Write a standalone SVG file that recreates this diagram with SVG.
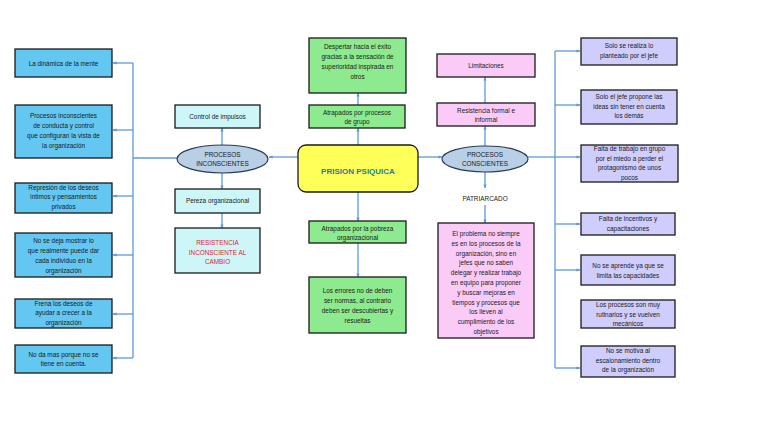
<svg xmlns="http://www.w3.org/2000/svg" width="768" height="433" viewBox="0 0 768 433">
<defs>
<marker id="ah" viewBox="0 0 10 10" refX="9" refY="5" markerWidth="4" markerHeight="4" orient="auto" markerUnits="userSpaceOnUse">
<path d="M0,1 L10,5 L0,9 z" fill="#5b9bd5"/>
</marker>
<style>
.t{font-family:"Liberation Sans",Arial,sans-serif;font-size:6.4px;fill:#1a1a1a;text-anchor:middle}
.b{stroke:#1a1a1a;stroke-width:1.3}
.lb{fill:#63c7f2}
.cy{fill:#cdf6f8}
.gr{fill:#8eea8e}
.pk{fill:#fbcbf8}
.lv{fill:#cfcdfb}
.el{fill:#b8cfe6;stroke:#2a3a55;stroke-width:1.2}
.c{stroke:#5b9bd5;stroke-width:1.3;fill:none}
.a{marker-end:url(#ah)}
</style>
</defs>
<rect width="768" height="433" fill="#ffffff"/>

<g id="connectors">
<!-- left trunk -->
<path class="c" d="M133,63 V358"/>
<path class="c" d="M177,158 H133"/>
<path class="c a" d="M133,63 H113"/>
<path class="c a" d="M133,130 H113"/>
<path class="c a" d="M133,196 H113"/>
<path class="c a" d="M133,255 H113"/>
<path class="c a" d="M133,314 H113"/>
<path class="c a" d="M133,358 H113"/>
<!-- inconscientes -->
<path class="c a" d="M222,145 V128"/>
<path class="c a" d="M222,173 V189"/>
<path class="c a" d="M222,213 V228"/>
<path class="c a" d="M298,157 H269"/>
<!-- center -->
<path class="c a" d="M358,145 V128"/>
<path class="c a" d="M358,105 V93"/>
<path class="c a" d="M358,192 V221"/>
<path class="c a" d="M358,243 V277"/>
<path class="c a" d="M418,157 H442"/>
<!-- conscientes -->
<path class="c a" d="M485,146 V126"/>
<path class="c a" d="M485,103 V77"/>
<path class="c a" d="M485,172 V188"/>
<path class="c a" d="M485,205 V223"/>
<path class="c" d="M528,157 H555"/>
<!-- right trunk -->
<path class="c" d="M555,51 V368"/>
<path class="c a" d="M555,51 H580"/>
<path class="c a" d="M555,105 H580"/>
<path class="c a" d="M555,157 H580"/>
<path class="c a" d="M555,224 H580"/>
<path class="c a" d="M555,270 H580"/>
<path class="c a" d="M555,368 H580"/>
</g>

<!-- left column -->
<g id="n-dinamica">
<rect class="b lb" x="15" y="49" width="97" height="28"/>
<text class="t" x="63.5" y="65.5">La dinámica de la mente</text>
</g>
<g id="n-procesos-inconscientes-conducta">
<rect class="b lb" x="15" y="105" width="97" height="53"/>
<text class="t" x="63.5" y="118"><tspan x="63.5">Procesos inconscientes</tspan><tspan x="63.5" dy="10">de conducta y control</tspan><tspan x="63.5" dy="10">que configuran la vista de</tspan><tspan x="63.5" dy="10">la organización</tspan></text>
</g>
<g id="n-represion">
<rect class="b lb" x="15" y="183" width="97" height="30"/>
<text class="t" x="63.5" y="189.5"><tspan x="63.5">Represión de los deseos</tspan><tspan x="63.5" dy="9.5">íntimos y pensamientos</tspan><tspan x="63.5" dy="9.5">privados</tspan></text>
</g>
<g id="n-no-se-deja">
<rect class="b lb" x="15" y="233" width="97" height="44"/>
<text class="t" x="63.5" y="242.5"><tspan x="63.5">No se deja  mostrar lo</tspan><tspan x="63.5" dy="10">que realmente puede dar</tspan><tspan x="63.5" dy="10">cada individuo en la</tspan><tspan x="63.5" dy="10">organización</tspan></text>
</g>
<g id="n-frena">
<rect class="b lb" x="15" y="299" width="97" height="29"/>
<text class="t" x="63.5" y="305.5"><tspan x="63.5">Frena los deseos de</tspan><tspan x="63.5" dy="9.5">ayudar a crecer a la</tspan><tspan x="63.5" dy="9.5">organización</tspan></text>
</g>
<g id="n-no-da">
<rect class="b lb" x="15" y="345" width="97" height="28"/>
<text class="t" x="63.5" y="356.5"><tspan x="63.5">No da mas porque no se</tspan><tspan x="63.5" dy="9.5">tiene en cuenta.</tspan></text>
</g>

<!-- inconscientes column -->
<g id="n-control">
<rect class="b cy" x="175" y="105" width="85" height="23"/>
<text class="t" x="217.5" y="119">Control de impulsos</text>
</g>
<g id="n-procesos-inconscientes">
<ellipse class="el" cx="222.5" cy="159" rx="45.5" ry="14"/>
<text class="t" x="222.5" y="157"><tspan x="222.5">PROCESOS</tspan><tspan x="222.5" dy="9">INCONSCIENTES</tspan></text>
</g>
<g id="n-pereza">
<rect class="b cy" x="175" y="189" width="85" height="24"/>
<text class="t" x="217.5" y="203">Pereza organizacional</text>
</g>
<g id="n-resistencia-inconsciente">
<rect class="b cy" x="175" y="228" width="85" height="45"/>
<text class="t" x="217.5" y="245" style="fill:#e8202a"><tspan x="217.5">RESISTENCIA</tspan><tspan x="217.5" dy="9.5">INCONSCIENTE AL</tspan><tspan x="217.5" dy="9.5">CAMBIO</tspan></text>
</g>

<!-- center column -->
<g id="n-despertar">
<rect class="b gr" x="309" y="38" width="97" height="55"/>
<text class="t" x="357.5" y="49"><tspan x="357.5">Despertar hacia el éxito</tspan><tspan x="357.5" dy="10">gracias a la sensación de</tspan><tspan x="357.5" dy="10">superioridad inspirada en</tspan><tspan x="357.5" dy="10">otros</tspan></text>
</g>
<g id="n-atrapados-grupo">
<rect class="b gr" x="309" y="105" width="96" height="23"/>
<text class="t" x="357" y="115"><tspan x="357">Atrapados por procesos</tspan><tspan x="357" dy="9">de grupo</tspan></text>
</g>
<g id="n-prision">
<rect x="298" y="145" width="120" height="47" rx="8" ry="8" fill="#ffff5a" stroke="#1a1a1a" stroke-width="1.3"/>
<text x="358" y="174" style="font-family:'Liberation Sans',Arial,sans-serif;font-size:8px;font-weight:bold;fill:#2b7b99;text-anchor:middle">PRISION PSIQUICA</text>
</g>
<g id="n-atrapados-pobreza">
<rect class="b gr" x="309" y="221" width="97" height="22"/>
<text class="t" x="357.5" y="230.5"><tspan x="357.5">Atrapados por la pobreza</tspan><tspan x="357.5" dy="9">organizacional</tspan></text>
</g>
<g id="n-errores">
<rect class="b gr" x="309" y="277" width="97" height="56"/>
<text class="t" x="357.5" y="293"><tspan x="357.5">Los errores no de deben</tspan><tspan x="357.5" dy="10">ser normas, al contrario</tspan><tspan x="357.5" dy="10">deben ser descubiertas y</tspan><tspan x="357.5" dy="10">resueltas</tspan></text>
</g>

<!-- conscientes column -->
<g id="n-limitaciones">
<rect class="b pk" x="437" y="54" width="98" height="23"/>
<text class="t" x="486" y="68">Limitaciones</text>
</g>
<g id="n-resistencia-formal">
<rect class="b pk" x="437" y="103" width="98" height="23"/>
<text class="t" x="486" y="112.5"><tspan x="486">Resistencia formal e</tspan><tspan x="486" dy="9">informal</tspan></text>
</g>
<g id="n-procesos-conscientes">
<ellipse class="el" cx="485" cy="159" rx="43" ry="13"/>
<text class="t" x="485" y="157"><tspan x="485">PROCESOS</tspan><tspan x="485" dy="9">CONSCIENTES</tspan></text>
</g>
<g id="n-patriarcado">
<text class="t" x="485" y="201">PATRIARCADO</text>
</g>
<g id="n-problema">
<rect class="b pk" x="438" y="223" width="96" height="115"/>
<text class="t" x="486" y="236"><tspan x="486">El problema no siempre</tspan><tspan x="486" dy="9.8">es en los procesos de la</tspan><tspan x="486" dy="9.8">organización, sino en</tspan><tspan x="486" dy="9.8">jefes que no saben</tspan><tspan x="486" dy="9.8">delegar y realizar trabajo</tspan><tspan x="486" dy="9.8">en equipo para proponer</tspan><tspan x="486" dy="9.8">y buscar mejoras en</tspan><tspan x="486" dy="9.8">tiempos y procesos que</tspan><tspan x="486" dy="9.8">los lleven al</tspan><tspan x="486" dy="9.8">cumplimiento de los</tspan><tspan x="486" dy="9.8">objetivos</tspan></text>
</g>

<!-- right column -->
<g id="n-solo-realiza">
<rect class="b lv" x="581" y="38" width="96" height="27"/>
<text class="t" x="629" y="48"><tspan x="629">Solo se realiza lo</tspan><tspan x="629" dy="10">planteado por el jefe</tspan></text>
</g>
<g id="n-solo-jefe">
<rect class="b lv" x="581" y="90" width="96" height="34"/>
<text class="t" x="629" y="99"><tspan x="629">Solo el jefe propone las</tspan><tspan x="629" dy="9.5">ideas sin tener en cuenta</tspan><tspan x="629" dy="9.5">los demás</tspan></text>
</g>
<g id="n-falta-trabajo">
<rect class="b lv" x="581" y="145" width="97" height="37"/>
<text class="t" x="629.5" y="151"><tspan x="629.5">Falta de trabajo en grupo</tspan><tspan x="629.5" dy="9.5">por el miedo a perder el</tspan><tspan x="629.5" dy="9.5">protagonismo de unos</tspan><tspan x="629.5" dy="9.5">pocos</tspan></text>
</g>
<g id="n-falta-incentivos">
<rect class="b lv" x="581" y="213" width="94" height="22"/>
<text class="t" x="628" y="221"><tspan x="628">Falta de incentivos y</tspan><tspan x="628" dy="9.5">capacitaciones</tspan></text>
</g>
<g id="n-no-aprende">
<rect class="b lv" x="581" y="255" width="94" height="30"/>
<text class="t" x="628" y="268"><tspan x="628">No se aprende ya que se</tspan><tspan x="628" dy="9.5">limita las capacidades</tspan></text>
</g>
<g id="n-rutinarios">
<rect class="b lv" x="581" y="300" width="94" height="28"/>
<text class="t" x="628" y="307"><tspan x="628">Los procesos son muy</tspan><tspan x="628" dy="9.5">rutinarios y se vuelven</tspan><tspan x="628" dy="9.5">mecánicos</tspan></text>
</g>
<g id="n-no-motiva">
<rect class="b lv" x="581" y="346" width="94" height="31"/>
<text class="t" x="628" y="353"><tspan x="628">No se motiva al</tspan><tspan x="628" dy="9.5">escalonamiento dentro</tspan><tspan x="628" dy="9.5">de la organización</tspan></text>
</g>
</svg>
